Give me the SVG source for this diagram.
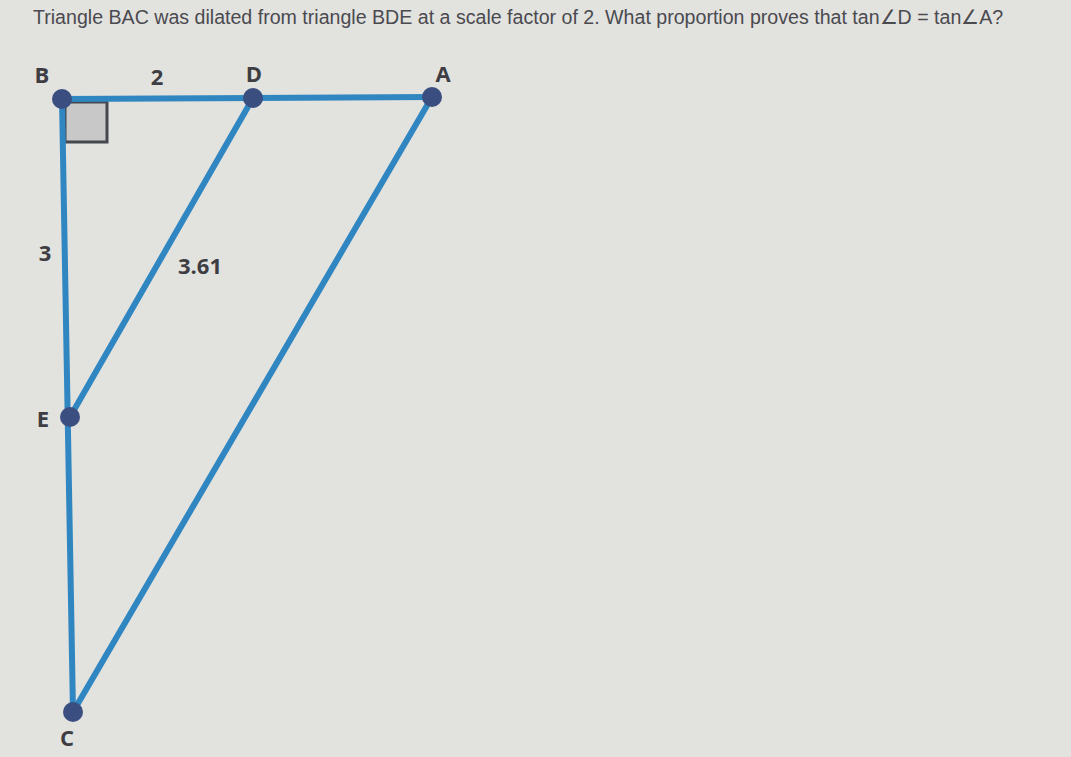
<svg xmlns="http://www.w3.org/2000/svg" width="1071" height="757" viewBox="0 0 1071 757">
<style>
.t{font-family:"Liberation Sans",Arial,sans-serif;font-size:19.6px;fill:#4a4a4f}
.lbl{font-family:"Open Sans","DejaVu Sans",sans-serif;font-weight:bold;font-size:22px;fill:#3d3d42;text-anchor:middle}
.seg{stroke:#2f86c0;stroke-width:6;stroke-linecap:round;fill:none}
.pt{fill:#3b4e80}
</style>
<rect width="1071" height="757" fill="#e2e2df"/>
<text class="t" x="33" y="24">Triangle BAC was dilated from triangle BDE at a scale factor of 2. What proportion proves that tan∠D = tan∠A?</text>
<rect x="65" y="102" width="42" height="40" fill="#c8c8c8" stroke="#44474d" stroke-width="3"/>
<g id="connectors">
<line class="seg" x1="62" y1="99" x2="432" y2="97"/>
<line class="seg" x1="62" y1="99" x2="73" y2="712"/>
<line class="seg" x1="253" y1="98" x2="70" y2="417"/>
<line class="seg" x1="432" y1="97" x2="73" y2="712"/>
</g>
<g id="B"><circle class="pt" cx="62" cy="99" r="10"/><text class="lbl" x="42" y="83">B</text></g>
<g id="D"><circle class="pt" cx="253" cy="98" r="10"/><text class="lbl" x="254" y="82">D</text></g>
<g id="A"><circle class="pt" cx="432" cy="97" r="10"/><text class="lbl" x="443" y="82">A</text></g>
<g id="E"><circle class="pt" cx="70" cy="417" r="10"/><text class="lbl" x="43" y="427">E</text></g>
<g id="C"><circle class="pt" cx="73" cy="712" r="10"/><text class="lbl" x="67" y="746">C</text></g>
<text class="lbl" x="157" y="85">2</text>
<text class="lbl" x="45" y="261">3</text>
<text class="lbl" x="200" y="274">3.61</text>
</svg>
